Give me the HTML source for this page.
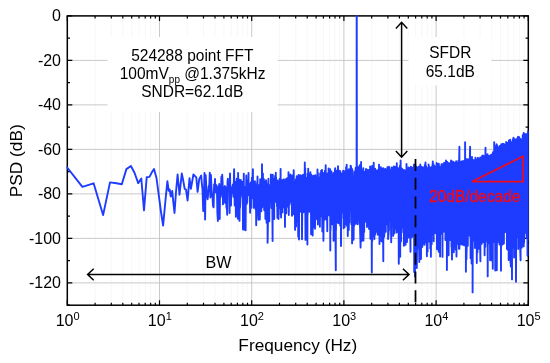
<!DOCTYPE html>
<html><head><meta charset="utf-8"><title>PSD</title><style>html,body{margin:0;padding:0;background:#fff}</style></head><body>
<svg width="550" height="363" viewBox="0 0 550 363" style="display:block;font-family:'Liberation Sans',sans-serif">
<rect width="550" height="363" fill="#fff"/>
<defs><clipPath id="pc"><rect x="66.55" y="15.15" width="462.49999999999994" height="290.802"/></clipPath></defs>
<path d="M95.1,15.9V305.2M111.3,15.9V305.2M122.8,15.9V305.2M131.7,15.9V305.2M139.0,15.9V305.2M145.2,15.9V305.2M150.6,15.9V305.2M155.3,15.9V305.2M187.3,15.9V305.2M203.5,15.9V305.2M215.0,15.9V305.2M223.9,15.9V305.2M231.2,15.9V305.2M237.4,15.9V305.2M242.8,15.9V305.2M247.5,15.9V305.2M279.5,15.9V305.2M295.7,15.9V305.2M307.2,15.9V305.2M316.1,15.9V305.2M323.4,15.9V305.2M329.6,15.9V305.2M335.0,15.9V305.2M339.7,15.9V305.2M371.7,15.9V305.2M387.9,15.9V305.2M399.4,15.9V305.2M408.3,15.9V305.2M415.6,15.9V305.2M421.8,15.9V305.2M427.2,15.9V305.2M431.9,15.9V305.2M463.9,15.9V305.2M480.1,15.9V305.2M491.6,15.9V305.2M500.5,15.9V305.2M507.8,15.9V305.2M514.0,15.9V305.2M519.4,15.9V305.2M524.1,15.9V305.2" stroke="#eeeeee" stroke-width="0.9" stroke-dasharray="1 1" fill="none"/>
<path d="M159.5,15.9V305.2M251.7,15.9V305.2M343.9,15.9V305.2M436.1,15.9V305.2M67.3,60.4H528.3M67.3,104.9H528.3M67.3,149.4H528.3M67.3,193.9H528.3M67.3,238.4H528.3M67.3,282.9H528.3" stroke="#c6c6c6" stroke-width="0.95" fill="none"/>
<rect x="107.5" y="37" width="170.2" height="75" fill="#fff"/>
<rect x="408.5" y="37" width="82.9" height="48.3" fill="#fff"/>
<path d="M67.3,305.2v-5M67.3,15.9v5M95.1,305.2v-2.5M95.1,15.9v2.5M111.3,305.2v-2.5M111.3,15.9v2.5M122.8,305.2v-2.5M122.8,15.9v2.5M131.7,305.2v-2.5M131.7,15.9v2.5M139.0,305.2v-2.5M139.0,15.9v2.5M145.2,305.2v-2.5M145.2,15.9v2.5M150.6,305.2v-2.5M150.6,15.9v2.5M155.3,305.2v-2.5M155.3,15.9v2.5M159.5,305.2v-5M159.5,15.9v5M187.3,305.2v-2.5M187.3,15.9v2.5M203.5,305.2v-2.5M203.5,15.9v2.5M215.0,305.2v-2.5M215.0,15.9v2.5M223.9,305.2v-2.5M223.9,15.9v2.5M231.2,305.2v-2.5M231.2,15.9v2.5M237.4,305.2v-2.5M237.4,15.9v2.5M242.8,305.2v-2.5M242.8,15.9v2.5M247.5,305.2v-2.5M247.5,15.9v2.5M251.7,305.2v-5M251.7,15.9v5M279.5,305.2v-2.5M279.5,15.9v2.5M295.7,305.2v-2.5M295.7,15.9v2.5M307.2,305.2v-2.5M307.2,15.9v2.5M316.1,305.2v-2.5M316.1,15.9v2.5M323.4,305.2v-2.5M323.4,15.9v2.5M329.6,305.2v-2.5M329.6,15.9v2.5M335.0,305.2v-2.5M335.0,15.9v2.5M339.7,305.2v-2.5M339.7,15.9v2.5M343.9,305.2v-5M343.9,15.9v5M371.7,305.2v-2.5M371.7,15.9v2.5M387.9,305.2v-2.5M387.9,15.9v2.5M399.4,305.2v-2.5M399.4,15.9v2.5M408.3,305.2v-2.5M408.3,15.9v2.5M415.6,305.2v-2.5M415.6,15.9v2.5M421.8,305.2v-2.5M421.8,15.9v2.5M427.2,305.2v-2.5M427.2,15.9v2.5M431.9,305.2v-2.5M431.9,15.9v2.5M436.1,305.2v-5M436.1,15.9v5M463.9,305.2v-2.5M463.9,15.9v2.5M480.1,305.2v-2.5M480.1,15.9v2.5M491.6,305.2v-2.5M491.6,15.9v2.5M500.5,305.2v-2.5M500.5,15.9v2.5M507.8,305.2v-2.5M507.8,15.9v2.5M514.0,305.2v-2.5M514.0,15.9v2.5M519.4,305.2v-2.5M519.4,15.9v2.5M524.1,305.2v-2.5M524.1,15.9v2.5M528.3,305.2v-5M528.3,15.9v5M67.3,15.9h5M528.3,15.9h-5M67.3,38.2h2.7M528.3,38.2h-2.7M67.3,60.4h5M528.3,60.4h-5M67.3,82.7h2.7M528.3,82.7h-2.7M67.3,104.9h5M528.3,104.9h-5M67.3,127.2h2.7M528.3,127.2h-2.7M67.3,149.4h5M528.3,149.4h-5M67.3,171.7h2.7M528.3,171.7h-2.7M67.3,193.9h5M528.3,193.9h-5M67.3,216.2h2.7M528.3,216.2h-2.7M67.3,238.4h5M528.3,238.4h-5M67.3,260.7h2.7M528.3,260.7h-2.7M67.3,282.9h5M528.3,282.9h-5M67.3,305.2h2.7M528.3,305.2h-2.7" stroke="#000" stroke-width="1.2" fill="none"/>
<rect x="67.3" y="15.9" width="460.99999999999994" height="289.3" fill="none" stroke="#000" stroke-width="1.5"/>
<path clip-path="url(#pc)" d="M66.4,166.5 82.4,186.9 93.6,183.3 103.1,215.1 110.0,182.4 116.5,183.3 121.8,184.2 126.4,169.1 130.9,166.0 134.5,172.7 138.2,183.1 141.3,178.5 144.0,210.4 146.7,177.3 149.5,176.9 152.0,172.0 154.0,169.0 156.5,178.0 158.7,194.7 161.0,212.0 163.1,225.6 165.5,200.0 167.4,181.2 168.7,190.9 169.7,189.5 170.8,196.6 172.2,190.9 173.4,203.0 174.5,213.0 176.0,192.0 177.6,174.5 179.5,194.7 181.8,173.5 183.3,181.0 184.7,188.9 186.0,189.5 187.6,200.5 189.5,178.3 190.9,188.9 193.4,174.5 196.3,177.4 197.6,191.8 199.2,179.3 201.2,175.5 201.9,184.1 202.5,189.3 203.2,211.0 203.9,198.0 204.5,173.0 205.1,219.6 205.7,175.1 206.4,189.6 207.0,194.9 207.6,199.3 208.1,194.7 208.7,186.4 209.3,185.0 209.8,172.8 210.4,197.5 210.9,174.9 211.5,188.4 212.0,194.1 212.5,197.2 213.0,205.7 213.6,207.3 214.1,184.5 214.6,188.5 215.0,179.0 215.5,192.2 216.0,191.5 216.5,185.2 217.0,191.6 217.4,213.3 217.9,221.0 218.3,187.0 218.8,190.5 219.2,184.0 219.7,219.0 220.1,188.1 220.5,197.4 220.9,194.9 221.4,176.7 221.8,184.3 222.2,174.8 222.6,182.3 223.0,204.4 223.4,201.8 223.8,196.5 224.2,198.3 224.6,186.6 224.9,186.0 225.3,203.0 225.7,195.0 226.1,187.4 226.4,207.8 226.8,205.2 227.2,214.8 227.5,182.1 227.9,178.7 228.2,190.9 228.6,185.7 228.9,190.4 229.3,188.9 229.6,213.0 230.0,173.4 230.3,189.4 230.6,189.5 231.0,205.5 231.3,187.8 231.6,188.0 231.9,188.0 232.2,192.9 232.6,185.7 232.9,184.4 233.2,192.0 233.5,196.7 233.8,183.7 234.1,169.3 234.4,191.1 234.7,205.6 235.0,199.7 235.3,182.0 235.6,191.4 235.9,216.7 236.2,186.3 236.5,194.5 236.8,178.6 237.0,190.4 237.3,189.3 237.6,195.6 237.9,218.7 238.1,173.0 238.4,195.1 238.7,182.2 239.0,204.1 239.2,179.6 239.5,220.9 239.8,190.5 240.0,208.0 240.3,202.5 240.5,184.9 240.8,180.0 241.1,192.5 241.3,185.9 241.6,188.7 241.8,195.3 242.1,181.8 242.3,183.7 242.6,198.0 242.8,192.2 243.0,229.6 243.3,188.3 243.5,209.4 243.8,173.6 244.0,229.5 244.2,186.5 244.5,187.3 244.7,199.7 244.9,192.9 245.2,197.7 245.4,221.5 245.6,230.2 245.9,188.1 246.1,188.5 246.3,175.5 246.5,204.1 246.8,203.2 247.0,194.3 247.2,202.4 247.4,194.7 247.6,180.1 247.8,187.2 248.1,194.2 248.3,192.4 248.5,173.0 248.7,195.0 248.9,188.9 249.1,184.0 249.3,188.0 249.5,188.3 249.7,185.3 249.9,201.4 250.1,212.7 250.3,187.1 250.5,193.3 250.8,182.5 251.0,208.0 251.1,195.0 251.3,198.7 251.5,189.4 251.7,196.1 251.9,177.6 252.1,190.9 252.3,180.5 252.5,184.9 252.9,169.3 253.1,194.2 253.3,199.2 253.5,200.9 253.6,207.8 253.8,181.8 254.0,193.6 254.2,199.7 254.4,187.2 254.6,194.8 254.7,190.5 254.9,181.1 255.3,190.8 255.5,208.9 255.6,197.1 255.8,193.6 256.0,200.5 256.2,225.3 256.3,198.6 256.5,184.3 256.9,194.6 257.0,202.7 257.2,182.0 257.4,186.7 257.5,176.4 257.7,195.9 258.1,214.1 258.2,216.0 258.4,219.7 258.5,214.0 258.9,213.0 259.0,185.3 259.2,218.4 259.4,195.3 259.7,190.9 259.8,219.5 260.0,194.4 260.2,179.2 260.5,197.8 260.6,184.8 260.8,192.3 260.9,204.2 261.1,184.0 261.3,211.3 261.6,182.6 261.9,198.1 262.0,164.3 262.2,207.4 262.3,196.1 262.5,186.2 262.9,173.5 263.1,191.3 263.2,201.5 263.4,193.0 263.6,205.2 263.8,185.1 263.9,179.1 264.2,210.2 264.4,199.8 264.7,191.8 264.8,194.6 264.9,182.8 265.4,218.9 265.5,200.2 265.6,200.1 265.8,185.1 265.9,197.3 266.0,180.3 266.4,184.3 266.6,222.8 266.7,189.5 266.9,205.8 267.1,184.3 267.4,198.5 267.5,185.7 267.6,242.8 268.2,208.8 268.3,189.6 268.4,178.7 268.7,217.7 268.8,185.4 269.1,210.2 269.3,221.2 269.4,195.2 269.7,199.9 269.8,185.3 269.9,190.5 270.1,197.1 270.3,185.7 270.7,202.8 270.8,198.5 270.9,174.4 271.3,179.5 271.4,208.0 271.6,180.7 271.8,199.1 272.1,181.1 272.2,188.0 272.6,241.0 272.7,183.6 272.8,174.6 272.9,189.6 273.2,216.3 273.3,186.6 273.6,206.6 273.7,180.2 274.2,219.1 274.3,178.4 274.4,192.9 274.6,197.4 274.9,199.9 275.1,175.9 275.3,201.7 275.5,184.6 275.7,199.1 275.8,172.8 275.9,198.0 276.1,177.5 276.3,198.1 276.5,180.6 277.0,206.6 277.1,182.4 277.4,217.9 277.5,182.0 277.7,180.4 277.8,197.8 277.9,202.7 278.0,182.9 278.5,219.1 278.6,184.0 278.8,209.0 278.9,186.6 279.2,182.3 279.5,199.0 279.7,178.6 279.9,194.0 280.0,179.6 280.2,202.6 280.4,203.5 280.6,169.0 280.7,214.8 280.9,179.8 281.1,217.6 281.3,197.5 281.6,180.8 281.8,191.8 282.0,180.2 282.2,196.9 282.5,212.4 282.6,191.2 283.0,193.6 283.0,182.4 283.3,203.7 283.5,179.5 283.6,180.4 283.7,207.4 284.0,179.4 284.2,189.2 284.4,184.7 284.4,195.9 284.7,186.0 285.0,226.9 285.1,181.3 285.3,196.0 285.6,195.4 285.9,179.2 286.0,208.6 286.2,185.3 286.3,213.2 286.6,180.4 286.7,201.0 286.9,179.6 287.1,178.3 287.4,191.0 287.5,193.5 287.7,182.8 288.1,181.0 288.2,207.0 288.4,189.1 288.5,172.3 288.8,215.0 289.1,175.9 289.4,179.0 289.5,204.6 289.6,199.3 289.8,186.2 289.9,180.4 290.1,194.4 290.4,174.5 290.5,201.9 290.9,193.3 291.0,180.7 291.1,195.6 291.3,178.0 291.7,181.1 291.8,203.9 292.0,215.8 292.1,175.4 292.3,179.5 292.5,196.3 292.8,180.5 292.9,202.7 293.1,214.3 293.2,177.2 293.5,197.6 293.7,170.3 294.1,198.6 294.3,181.3 294.4,187.6 294.5,208.5 294.8,183.8 294.9,212.0 295.1,229.9 295.4,181.1 295.6,193.4 295.9,179.1 296.1,226.4 296.1,181.1 296.6,221.7 296.7,176.2 296.9,196.0 297.0,182.3 297.2,185.5 297.3,214.3 297.6,212.5 297.8,187.6 298.0,181.3 298.2,236.5 298.4,199.6 298.5,175.0 298.8,187.0 299.0,239.5 299.2,186.0 299.5,205.7 299.6,177.3 299.6,203.1 300.1,175.1 300.2,211.8 300.4,196.4 300.5,176.3 300.7,187.5 300.8,209.2 301.2,195.6 301.3,176.1 301.7,175.5 301.8,198.8 301.9,181.0 302.0,239.2 302.5,178.0 302.6,199.3 302.7,182.4 302.8,203.8 303.2,174.8 303.4,212.2 303.6,184.0 303.8,194.6 304.2,178.7 304.2,211.9 304.3,186.2 304.5,208.7 304.8,162.5 305.1,202.1 305.2,168.2 305.3,206.9 305.5,239.9 305.6,178.8 306.0,215.0 306.0,184.1 306.3,207.8 306.4,185.3 306.7,177.7 306.8,200.8 307.2,179.3 307.4,244.5 307.6,173.8 307.7,214.6 308.0,194.3 308.2,168.6 308.3,175.5 308.4,200.2 308.7,180.9 309.0,211.2 309.1,178.7 309.3,191.3 309.7,207.5 309.8,174.0 309.9,211.9 310.0,178.1 310.3,208.1 310.4,172.2 310.9,182.1 311.1,234.2 311.4,217.0 311.4,174.8 311.7,177.6 311.8,218.9 311.9,221.3 312.1,180.2 312.6,178.7 312.7,235.6 312.8,178.9 313.1,216.0 313.2,175.9 313.4,218.6 313.6,175.7 313.9,226.5 314.0,210.5 314.2,179.1 314.6,176.1 314.6,227.4 314.8,178.1 315.0,228.7 315.2,205.6 315.3,175.2 315.6,176.6 315.8,210.5 316.0,219.2 316.3,182.7 316.4,178.3 316.6,207.7 316.8,177.4 316.9,208.3 317.2,201.5 317.3,178.4 317.5,169.5 317.8,207.1 317.9,173.2 317.9,224.5 318.5,180.9 318.6,203.0 318.8,201.9 319.0,180.4 319.4,209.1 319.4,178.2 319.6,214.4 319.8,177.1 319.9,226.8 320.2,173.2 320.3,173.9 320.6,203.3 320.9,174.8 320.9,215.5 321.1,170.7 321.2,216.3 321.6,215.0 321.7,172.8 322.0,170.0 322.3,231.4 322.3,206.8 322.4,180.7 322.8,203.6 323.0,177.7 323.3,177.5 323.4,240.7 323.8,202.8 323.8,173.3 324.1,220.1 324.1,172.6 324.3,216.6 324.4,176.3 325.0,170.7 325.0,219.3 325.4,206.1 325.4,178.1 325.7,165.3 325.8,219.4 325.9,174.7 326.3,208.8 326.6,173.1 326.6,200.8 326.8,174.7 326.9,208.7 327.3,231.3 327.4,174.4 327.6,179.1 327.6,211.1 328.0,173.9 328.1,203.5 328.5,215.4 328.6,168.4 328.8,212.6 329.0,175.8 329.2,177.2 329.3,203.2 329.6,203.8 329.7,174.8 330.1,169.3 330.3,250.6 330.4,172.0 330.5,230.6 330.7,217.7 330.8,182.4 331.2,174.0 331.4,214.9 331.5,171.5 331.7,201.5 332.0,224.2 332.1,174.3 332.4,214.1 332.7,174.4 332.7,217.7 332.9,181.5 333.3,197.4 333.5,174.6 333.6,240.7 333.6,173.0 334.1,206.2 334.1,178.8 334.5,177.2 334.6,209.9 334.7,221.5 334.8,172.9 335.1,168.2 335.1,197.4 335.8,270.3 335.9,170.6 336.0,230.2 336.1,170.8 336.4,214.5 336.6,182.2 336.7,176.6 336.9,206.4 337.2,212.5 337.4,170.9 337.7,222.6 337.7,174.2 338.0,166.2 338.2,205.7 338.4,223.3 338.5,171.5 338.8,206.4 339.0,170.6 339.1,173.1 339.3,209.9 339.5,174.2 339.8,216.0 340.1,173.1 340.2,225.6 340.3,171.3 340.6,204.6 340.7,173.8 341.0,246.0 341.2,221.4 341.3,176.2 341.8,208.7 341.9,176.2 342.1,208.3 342.1,175.1 342.3,173.2 342.5,212.6 342.7,212.1 343.1,170.7 343.4,218.3 343.4,176.6 343.7,228.2 343.8,177.4 343.9,178.1 344.2,208.4 344.6,171.2 344.7,227.0 344.8,171.3 345.1,224.6 345.2,171.0 345.4,209.2 345.6,171.7 345.8,209.2 346.0,213.0 346.1,167.2 346.5,220.1 346.6,170.3 346.7,164.8 347.0,225.8 347.3,171.2 347.4,205.1 347.6,170.0 347.8,236.0 348.0,175.5 348.2,215.6 348.5,220.4 348.7,174.7 348.8,230.0 349.0,169.1 349.4,222.4 349.5,174.7 349.7,208.4 349.7,170.5 350.1,171.8 350.2,210.1 350.5,199.9 350.6,165.6 351.1,167.0 351.1,206.7 351.1,212.1 351.1,166.7 351.5,224.4 351.7,171.9 352.0,168.9 352.1,243.4 352.5,205.0 352.5,170.2 352.7,173.6 353.1,209.9 353.1,177.0 353.5,222.6 353.5,176.5 353.6,239.8 354.1,180.0 354.2,225.7 354.5,213.6 354.7,172.2 355.0,171.4 355.1,209.5 355.1,222.8 355.4,172.4 355.7,167.8 355.8,223.9 356.2,169.8 356.3,208.5 356.6,204.2 356.7,-50.0 356.9,212.0 357.0,169.1 357.2,170.9 357.2,215.1 357.8,224.2 357.9,172.2 358.1,167.3 358.1,220.1 358.4,220.2 358.5,172.4 358.7,168.0 359.1,207.3 359.2,216.6 359.3,171.6 359.7,165.2 359.8,223.2 359.9,171.5 360.0,225.8 360.6,247.6 360.7,172.6 360.8,206.1 361.0,172.0 361.1,161.9 361.2,219.3 361.6,241.2 361.8,170.2 362.1,235.3 362.2,171.8 362.5,214.2 362.7,173.6 362.8,170.1 362.9,210.6 363.3,168.1 363.4,240.6 363.6,234.1 363.7,171.8 364.2,232.1 364.3,175.5 364.6,172.1 364.7,214.4 365.0,222.0 365.1,173.8 365.2,213.1 365.2,172.5 365.7,208.4 365.7,172.9 366.0,169.0 366.2,212.8 366.3,219.5 366.6,170.7 366.9,169.7 367.0,227.0 367.3,174.3 367.4,204.5 367.6,170.0 367.7,218.6 368.0,207.5 368.0,172.2 368.3,170.6 368.6,224.5 368.9,175.2 369.0,227.8 369.1,229.0 369.2,169.7 369.7,209.2 369.8,170.5 370.1,205.5 370.1,166.5 370.3,171.4 370.4,238.7 370.9,219.2 371.1,169.3 371.2,172.5 371.4,236.9 371.5,168.4 371.8,272.4 372.1,166.0 372.3,240.9 372.4,168.9 372.7,207.8 372.9,171.7 372.9,208.9 373.3,171.2 373.3,236.2 373.7,216.6 373.7,162.8 374.0,230.7 374.1,174.2 374.4,239.0 374.6,174.3 375.0,228.8 375.1,168.6 375.3,234.5 375.5,172.2 375.5,175.4 375.8,213.2 375.9,211.7 376.0,171.4 376.3,170.4 376.5,221.7 376.8,231.8 376.9,171.9 377.2,225.5 377.3,170.9 377.6,175.0 377.8,234.8 378.0,170.4 378.1,229.3 378.3,169.4 378.5,234.6 378.9,212.1 379.0,164.6 379.1,218.6 379.4,171.7 379.5,244.1 379.6,173.1 380.1,171.5 380.2,226.1 380.4,168.5 380.6,235.4 380.8,167.1 380.9,207.9 381.3,168.5 381.5,241.2 381.6,222.6 381.6,171.2 382.0,208.2 382.3,168.7 382.6,171.4 382.7,223.5 382.8,169.2 382.9,213.2 383.3,261.2 383.4,168.1 383.7,170.0 383.8,228.8 384.2,172.5 384.2,236.7 384.3,172.2 384.4,234.4 385.0,221.8 385.1,171.7 385.4,168.9 385.5,226.7 385.8,231.8 385.9,169.9 386.1,204.4 386.3,173.3 386.6,212.0 386.7,169.6 386.9,170.8 386.9,224.3 387.4,167.1 387.5,215.7 387.8,214.0 387.9,171.4 388.0,169.9 388.1,239.0 388.6,233.4 388.7,168.9 389.0,230.5 389.0,166.7 389.3,170.8 389.4,217.4 389.7,221.4 389.9,174.1 390.1,170.5 390.2,219.0 390.3,173.3 390.4,213.3 390.9,170.5 391.0,226.2 391.2,242.3 391.3,169.6 391.5,167.5 391.6,226.6 392.2,172.2 392.2,220.6 392.5,215.2 392.6,167.9 392.7,210.5 393.0,172.3 393.2,170.4 393.2,235.9 393.7,166.4 393.9,217.3 394.0,170.9 394.0,210.5 394.4,233.4 394.6,167.9 394.9,224.4 395.0,166.8 395.4,228.7 395.5,171.2 395.5,213.7 395.6,170.3 395.9,168.9 396.0,221.7 396.6,171.2 396.6,232.6 396.8,163.3 397.0,222.0 397.2,217.0 397.4,168.2 397.9,168.0 397.9,231.8 398.0,230.1 398.0,174.1 398.5,170.3 398.6,217.6 398.8,263.8 399.1,172.2 399.1,231.1 399.2,170.5 399.7,223.9 399.8,169.3 400.0,165.7 400.2,256.7 400.3,223.8 400.6,160.5 400.7,167.3 401.0,241.6 401.2,225.9 401.4,169.2 401.6,168.5 401.7,226.1 402.2,227.2 402.3,168.9 402.3,169.0 402.4,226.2 402.8,223.8 402.9,169.8 403.3,232.2 403.4,171.8 403.7,170.1 403.9,245.8 404.0,216.0 404.3,174.3 404.4,243.8 404.7,170.2 404.7,220.2 404.9,170.7 405.2,171.7 405.4,225.3 405.6,244.8 405.8,173.5 406.0,221.7 406.3,173.2 406.5,223.5 406.5,164.0 406.9,170.6 407.0,242.1 407.1,234.3 407.1,168.1 407.6,224.8 407.7,171.9 408.1,171.7 408.2,223.9 408.4,237.5 408.7,167.4 408.8,168.2 409.1,227.6 409.1,223.7 409.4,170.1 409.7,213.6 409.7,170.4 410.0,168.2 410.3,237.0 410.5,251.7 410.6,172.9 410.9,166.7 410.9,231.9 411.2,236.6 411.3,169.4 411.8,220.9 411.9,172.6 412.0,237.0 412.0,170.2 412.5,225.1 412.7,167.7 412.8,228.2 412.8,170.0 413.1,168.2 413.2,236.1 413.6,226.8 413.7,168.3 414.0,164.4 414.2,272.0 414.4,224.6 414.6,167.5 415.0,276.4 415.0,168.9 415.3,231.1 415.3,164.7 415.7,239.5 415.8,168.3 415.9,225.2 416.0,169.2 416.5,211.0 416.7,171.4 416.7,166.9 416.8,268.0 417.2,223.8 417.3,167.9 417.7,220.2 417.8,173.1 418.1,170.4 418.3,236.0 418.4,248.4 418.7,168.1 418.8,166.8 418.9,225.0 419.3,262.0 419.4,168.0 419.6,259.6 419.8,167.0 420.1,215.7 420.3,168.4 420.3,164.4 420.5,227.2 420.8,169.6 421.0,259.0 421.1,214.7 421.2,166.5 421.8,239.3 421.8,168.2 422.1,167.6 422.2,247.1 422.7,244.0 422.7,169.7 422.8,235.1 422.9,167.1 423.3,168.9 423.4,227.8 423.5,227.8 423.6,167.6 423.9,234.2 424.2,168.8 424.6,244.8 424.7,167.8 424.8,240.5 424.8,164.9 425.2,230.2 425.3,166.0 425.5,162.4 425.7,242.4 425.9,232.9 426.0,166.2 426.3,169.5 426.5,233.5 426.7,169.4 426.9,256.3 427.3,168.3 427.3,240.4 427.6,251.6 427.8,168.1 428.1,170.2 428.2,233.7 428.3,232.3 428.6,164.5 428.7,241.5 429.0,166.2 429.3,237.6 429.5,167.3 429.8,167.5 429.8,224.5 429.9,169.0 430.3,235.7 430.3,248.4 430.7,168.7 430.9,171.3 430.9,256.7 431.4,167.3 431.5,232.0 431.7,244.2 431.9,168.0 432.0,167.3 432.0,235.2 432.5,223.3 432.5,164.5 432.8,231.4 432.8,161.5 433.2,232.1 433.5,164.2 433.7,241.3 433.7,165.8 434.1,223.4 434.2,165.7 434.4,169.2 434.7,226.6 434.9,224.3 435.1,166.5 435.2,169.1 435.3,231.2 435.6,233.4 435.8,166.9 436.1,168.6 436.2,230.7 436.6,229.6 436.6,162.9 436.9,168.3 437.0,249.2 437.2,229.6 437.4,163.8 437.5,167.0 437.9,235.2 438.0,238.3 438.1,164.1 438.3,167.9 438.6,231.0 438.7,251.7 438.8,163.7 439.3,232.3 439.5,166.3 439.6,239.4 439.7,167.0 440.1,256.6 440.2,168.0 440.4,226.9 440.7,167.2 440.7,171.8 441.0,228.7 441.2,227.2 441.5,164.3 441.6,166.5 441.8,230.1 442.0,234.1 442.1,167.4 442.5,256.9 442.6,164.2 442.9,231.2 443.1,166.6 443.1,226.1 443.4,167.1 443.5,231.7 443.7,165.0 443.9,216.3 444.0,162.9 444.5,165.0 444.7,221.3 444.9,164.1 445.1,232.3 445.3,162.5 445.4,240.0 445.7,236.6 445.9,164.7 446.0,160.5 446.1,228.7 446.4,228.8 446.5,165.5 446.9,163.3 446.9,270.1 447.3,162.0 447.5,236.2 447.7,166.0 447.8,220.3 448.1,162.9 448.3,227.5 448.3,165.4 448.6,255.2 449.0,167.0 449.0,237.6 449.3,163.1 449.3,224.9 449.6,229.5 449.7,164.7 450.1,240.1 450.3,165.3 450.4,164.7 450.7,238.9 450.7,234.0 451.0,160.4 451.3,162.8 451.5,247.1 451.6,164.0 451.7,245.3 452.0,259.5 452.1,163.5 452.3,241.8 452.6,166.5 452.8,233.5 452.8,161.4 453.5,162.7 453.5,227.2 453.7,164.9 453.8,252.3 454.1,163.5 454.3,220.5 454.3,227.9 454.4,162.6 454.9,247.5 455.1,166.5 455.1,242.4 455.5,162.4 455.6,162.7 455.8,249.8 456.1,244.9 456.2,161.1 456.3,162.1 456.5,256.5 456.9,164.1 457.0,237.0 457.1,225.9 457.3,164.3 457.5,163.1 457.8,232.8 458.0,242.1 458.1,164.9 458.3,244.0 458.4,160.7 459.0,248.9 459.1,163.1 459.4,146.8 459.4,248.8 459.6,164.3 459.8,242.5 460.3,165.7 460.3,237.3 460.3,164.5 460.6,239.3 460.7,244.2 460.9,164.6 461.1,242.8 461.3,161.4 461.5,226.2 461.7,164.5 462.0,240.7 462.2,165.4 462.4,244.8 462.7,164.1 462.7,232.5 463.0,161.0 463.3,235.4 463.5,165.3 463.6,240.4 463.8,163.4 464.1,161.3 464.2,245.4 464.4,162.1 464.6,230.7 465.0,229.4 465.1,142.3 465.2,162.9 465.3,223.8 465.8,163.9 465.9,271.7 466.0,242.9 466.2,162.8 466.4,159.2 466.4,259.6 466.8,241.9 467.0,164.0 467.2,245.2 467.2,163.2 467.8,160.1 467.8,245.8 467.9,230.7 468.0,159.2 468.5,163.3 468.5,226.5 468.8,235.3 469.0,161.6 469.5,160.0 469.5,227.1 469.7,234.6 469.8,160.2 470.1,146.8 470.2,236.5 470.5,160.1 470.6,258.2 470.9,159.3 471.0,246.1 471.3,161.9 471.4,228.3 471.6,263.6 471.8,160.5 472.0,156.9 472.1,256.4 472.5,162.7 472.6,292.4 472.8,228.2 472.9,162.0 473.4,160.2 473.4,240.7 473.7,231.6 473.8,160.2 474.1,161.7 474.1,226.1 474.4,162.3 474.7,241.1 474.7,163.5 475.0,248.1 475.1,238.9 475.4,157.6 475.7,235.5 475.9,162.4 475.9,161.8 476.1,234.5 476.5,237.9 476.6,161.3 476.8,263.1 477.0,159.3 477.4,163.4 477.4,252.6 477.9,233.0 477.9,157.6 478.1,161.6 478.2,242.1 478.4,248.8 478.6,159.8 478.8,159.4 478.8,233.1 479.2,242.7 479.4,158.6 479.6,227.1 479.7,159.3 479.9,160.2 480.1,244.1 480.4,261.3 480.4,157.4 480.9,231.7 481.1,158.3 481.2,237.7 481.5,159.9 481.7,243.9 481.8,159.6 482.0,223.3 482.1,155.9 482.4,241.7 482.6,157.1 482.7,223.8 483.0,155.5 483.3,157.5 483.3,242.1 483.5,235.3 483.9,156.8 483.9,224.8 484.1,156.1 484.3,157.1 484.6,255.3 484.8,159.5 484.9,239.5 485.3,246.7 485.4,157.1 485.5,147.7 485.7,226.2 486.1,155.7 486.2,223.2 486.4,238.0 486.5,155.3 486.7,241.2 487.0,156.5 487.1,234.4 487.4,156.4 487.5,154.1 487.7,276.4 488.1,156.2 488.3,226.8 488.7,156.0 488.7,243.2 488.7,157.4 489.0,235.1 489.3,233.7 489.3,159.4 489.6,156.3 489.9,224.0 490.1,260.3 490.2,156.6 490.3,255.1 490.4,155.2 490.8,155.6 490.8,241.8 491.1,157.9 491.4,242.1 491.6,154.5 491.9,254.3 492.0,260.7 492.3,157.3 492.5,230.7 492.7,157.0 492.8,268.7 493.0,152.2 493.1,152.7 493.2,241.9 493.7,154.3 493.8,227.7 494.1,242.0 494.2,142.3 494.4,240.0 494.5,146.7 494.9,239.5 495.1,147.2 495.1,146.4 495.2,270.5 495.5,146.1 495.8,224.9 496.2,247.3 496.3,145.5 496.4,258.7 496.5,144.2 496.8,144.7 496.8,270.3 497.2,146.0 497.5,242.5 497.7,146.1 497.9,237.9 497.9,147.3 498.1,236.2 498.5,240.0 498.6,148.2 498.8,215.2 498.9,148.9 499.2,230.8 499.5,147.8 499.5,244.6 499.9,145.9 500.0,147.2 500.2,222.7 500.5,229.7 500.6,150.4 501.0,270.8 501.0,148.4 501.2,144.2 501.3,227.7 501.6,145.6 501.6,245.4 502.0,146.2 502.1,226.1 502.4,234.9 502.4,144.1 502.9,244.1 502.9,143.7 503.1,147.1 503.1,233.9 503.6,230.5 503.8,144.0 503.9,243.6 504.0,144.9 504.4,232.0 504.6,146.6 504.9,144.6 505.1,232.3 505.3,226.3 505.4,146.6 505.6,145.3 505.6,224.2 506.2,142.0 506.3,228.7 506.4,227.6 506.4,147.0 506.8,145.6 507.0,249.1 507.4,227.8 507.5,145.5 507.6,143.0 507.8,249.8 508.0,143.8 508.0,220.1 508.6,143.5 508.7,234.3 508.7,260.0 508.9,140.5 509.3,144.0 509.3,225.5 509.7,252.2 509.7,145.3 510.1,219.3 510.2,139.6 510.5,262.9 510.7,143.1 510.8,266.6 511.0,143.2 511.2,142.2 511.5,234.7 511.6,224.1 511.7,143.0 512.0,279.4 512.1,143.3 512.6,141.8 512.7,236.6 512.7,238.3 512.8,140.3 513.2,138.8 513.2,244.8 513.5,137.6 513.7,247.7 514.0,140.6 514.1,257.5 514.4,245.7 514.5,141.7 514.9,139.1 515.1,230.1 515.2,229.9 515.2,139.7 515.8,141.1 515.9,250.7 516.0,281.8 516.3,140.5 516.5,139.7 516.6,236.7 517.1,221.8 517.1,138.5 517.2,237.0 517.2,140.2 517.6,139.9 517.8,235.5 518.1,136.7 518.2,249.0 518.5,235.7 518.7,139.6 518.9,139.0 519.0,235.6 519.3,137.2 519.4,223.2 519.5,139.9 519.9,223.1 520.1,139.6 520.1,245.9 520.6,260.2 520.6,139.1 520.7,232.0 520.9,139.1 521.3,141.7 521.3,230.7 521.7,140.2 521.8,247.6 522.3,238.0 522.3,141.6 522.4,243.1 522.7,140.7 522.7,135.3 522.7,238.3 523.4,137.0 523.4,220.4 523.7,246.4 523.7,133.0 524.1,242.7 524.2,135.1 524.5,134.0 524.6,224.0 525.0,136.8 525.0,229.9 525.3,138.0 525.5,232.8 525.6,134.5 525.7,221.8 526.1,134.3 526.1,223.0 526.4,136.2 526.6,237.8 526.9,227.4 526.9,134.5 527.2,231.6 527.4,133.8 527.5,255.8 527.6,133.7 528.1,239.8 528.1,131.5 528.3,140.7" fill="none" stroke="#1e3cff" stroke-width="1.9" stroke-linejoin="round"/>
<path d="M415.5,158.9V305.2" stroke="#000" stroke-width="1.75" stroke-dasharray="12 6.75" fill="none"/>
<path d="M528.55,131V244" stroke="#000" stroke-opacity="0.3" stroke-width="1" fill="none"/>
<text x="61.0" y="21.3" font-size="16" text-anchor="end">0</text>
<text x="61.0" y="65.8" font-size="16" text-anchor="end">-20</text>
<text x="61.0" y="110.3" font-size="16" text-anchor="end">-40</text>
<text x="61.0" y="154.8" font-size="16" text-anchor="end">-60</text>
<text x="61.0" y="199.3" font-size="16" text-anchor="end">-80</text>
<text x="61.0" y="243.8" font-size="16" text-anchor="end">-100</text>
<text x="61.0" y="288.3" font-size="16" text-anchor="end">-120</text>
<text x="67.6" y="326.2" font-size="16" text-anchor="middle">10<tspan font-size="11" dy="-6.5">0</tspan></text>
<text x="159.8" y="326.2" font-size="16" text-anchor="middle">10<tspan font-size="11" dy="-6.5">1</tspan></text>
<text x="252.0" y="326.2" font-size="16" text-anchor="middle">10<tspan font-size="11" dy="-6.5">2</tspan></text>
<text x="344.2" y="326.2" font-size="16" text-anchor="middle">10<tspan font-size="11" dy="-6.5">3</tspan></text>
<text x="436.4" y="326.2" font-size="16" text-anchor="middle">10<tspan font-size="11" dy="-6.5">4</tspan></text>
<text x="528.6" y="326.2" font-size="16" text-anchor="middle">10<tspan font-size="11" dy="-6.5">5</tspan></text>
<text x="297.8" y="350.8" font-size="17.25" text-anchor="middle">Frequency (Hz)</text>
<text transform="translate(21.6,160.8) rotate(-90)" font-size="17.3" text-anchor="middle">PSD (dB)</text>
<text transform="translate(192.3,61.0) scale(1,1.08)" font-size="15.5" text-anchor="middle">524288 point FFT</text>
<text transform="translate(192.6,79.0) scale(1,1.08)" font-size="15.5" text-anchor="middle">100mV<tspan font-size="10" dy="3.3">pp</tspan><tspan dy="-3.3"> @1.375kHz</tspan></text>
<text transform="translate(192.2,96.9) scale(1,1.08)" font-size="15.5" text-anchor="middle">SNDR=62.1dB</text>
<text transform="translate(450.3,58.2) scale(1,1.08)" font-size="15.5" text-anchor="middle">SFDR</text>
<text transform="translate(450.3,77.4) scale(1,1.08)" font-size="15.5" text-anchor="middle">65.1dB</text>
<text transform="translate(218.5,267.8) scale(1,1.0)" font-size="16.1" text-anchor="middle">BW</text>
<text transform="translate(474.6,201.6) scale(1,1.08)" font-size="15.5" text-anchor="middle" fill="#f00a1a" stroke="#f00a1a" stroke-width="0.35">20dB/decade</text>
<path d="M472.2,181.6H523.1V156.3Z" fill="none" stroke="#f00a1a" stroke-width="1.7" stroke-linejoin="miter"/>
<path d="M401.6,22.6V156.9M395.90000000000003,28.4L401.6,22.3L407.3,28.4M395.90000000000003,151.1L401.6,157.2L407.3,151.1" fill="none" stroke="#000" stroke-width="1.5"/>
<path d="M87.89999999999999,274.5H408.7M93.69999999999999,268.8L87.6,274.5L93.69999999999999,280.2M402.9,268.8L409.0,274.5L402.9,280.2" fill="none" stroke="#000" stroke-width="1.5"/>
</svg>
</body></html>
